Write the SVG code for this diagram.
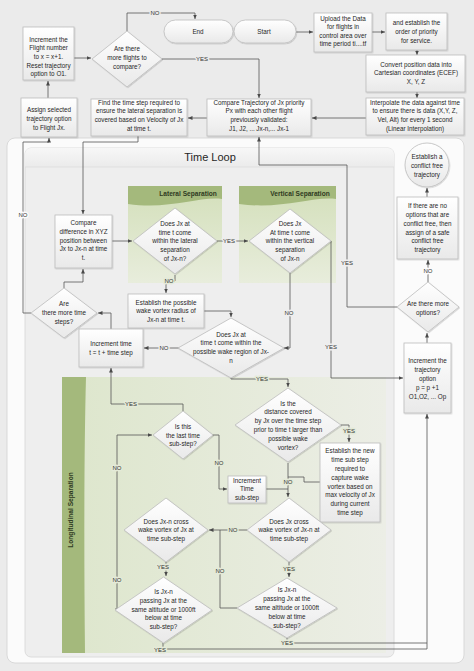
<svg xmlns="http://www.w3.org/2000/svg" width="474" height="671" viewBox="0 0 474 671">
<defs>
<linearGradient id="gNode" x1="0" y1="0" x2="0" y2="1"><stop offset="0" stop-color="#ffffff"/><stop offset="1" stop-color="#e9e9e9"/></linearGradient>
<linearGradient id="gGreen" x1="0" y1="0" x2="0" y2="1"><stop offset="0" stop-color="#d3dfba"/><stop offset="1" stop-color="#e8eddc"/></linearGradient>
<linearGradient id="gLong" x1="0" y1="0" x2="1" y2="0"><stop offset="0" stop-color="#dde6cc"/><stop offset="1" stop-color="#eceee6"/></linearGradient>
<linearGradient id="gTitle" x1="0" y1="0" x2="0" y2="1"><stop offset="0" stop-color="#f7f7f7"/><stop offset="1" stop-color="#ebebeb"/></linearGradient>
<marker id="ah" viewBox="0 0 8 8" refX="8" refY="4" markerWidth="4.5" markerHeight="4.5" orient="auto" markerUnits="userSpaceOnUse"><path d="M0,0.5 L8,4 L0,7.5 z" fill="#4a4a4a"/></marker>
<filter id="sh" x="-10%" y="-10%" width="130%" height="130%"><feDropShadow dx="0.7" dy="0.8" stdDeviation="0.7" flood-color="#000" flood-opacity="0.18"/></filter>
</defs>
<style>
.n{fill:url(#gNode);stroke:#bcbcbc;stroke-width:0.8;filter:url(#sh)}
.t{font-family:"Liberation Sans",Arial,sans-serif;font-size:6.3px;fill:#262626;text-anchor:middle}
.h{font-family:"Liberation Sans",Arial,sans-serif;font-size:6.6px;font-weight:bold;fill:#2f3a22;text-anchor:middle}
.c{fill:none;stroke:#555;stroke-width:0.8}
.a{marker-end:url(#ah)}
.l{font-family:"Liberation Sans",Arial,sans-serif;font-size:6px;fill:#333;text-anchor:middle;paint-order:stroke;stroke-width:3px;stroke-linejoin:round}
.lb{stroke:#ebebeb}.lg{stroke:#eeeeee}.lw{stroke:#fbfbfb}.lgr{stroke:#e4ead8}
</style>
<rect x="0" y="0" width="474" height="671" fill="#ebebeb"/>
<rect x="7" y="138" width="457" height="525" rx="8" fill="#fbfbfb" stroke="#d2d2d2" stroke-width="0.8"/>
<rect x="25" y="148" width="369" height="509" rx="6" fill="#eeeeee" stroke="#d6d6d6" stroke-width="0.8"/>
<path d="M31,148 H388 A6,6 0 0 1 394,154 V167 H25 V154 A6,6 0 0 1 31,148 Z" fill="url(#gTitle)"/>
<line x1="25" y1="167" x2="394" y2="167" stroke="#dcdcdc" stroke-width="0.8"/>
<text x="210" y="161" font-family="'Liberation Sans',Arial,sans-serif" font-size="11" fill="#262626" text-anchor="middle">Time Loop</text>
<g id="lateral-panel">
<rect x="128" y="186" width="94" height="97" fill="url(#gGreen)"/>
<path d="M128,186 H222 V199 C200,196 170,210 128,204 Z" fill="#a4b97c"/>
<text class="h" x="188" y="195.5">Lateral Separation</text>
</g>
<g id="vertical-panel">
<rect x="239" y="186" width="97" height="97" fill="url(#gGreen)"/>
<path d="M239,186 H336 V199 C313,196 282,210 239,204 Z" fill="#a4b97c"/>
<text class="h" x="300" y="195.5">Vertical Separation</text>
</g>
<g id="longitudinal-panel">
<rect x="62" y="377" width="324" height="276" fill="url(#gLong)"/>
<path d="M62,377 H86 C84,450 84,560 85,653 H62 Z" fill="#a4b97c"/>
<text class="h" transform="translate(73,510) rotate(-90)">Longitudinal Separation</text>
</g>
<g id="connectors">
<path class="c a" d="M296,32 H313"/>
<path class="c a" d="M372,32 H385"/>
<path class="c a" d="M417,50 V55"/>
<path class="c a" d="M417,92 V98"/>
<path class="c a" d="M366,118 H312"/>
<path class="c a" d="M207,118 H188"/>
<path class="c a" d="M138,136 V142 H83 V214"/>
<path class="c a" d="M112,241 H132"/>
<path class="c a" d="M217,241 H248"/>
<path class="c a" d="M175,275 V281 H166 V293"/>
<path class="c a" d="M204,311 H231 V317"/>
<path class="c a" d="M180,348 H144"/>
<path class="c a" d="M111,329 V313 H98"/>
<path class="c a" d="M64,288 V282 H83 V269"/>
<path class="c a" d="M31,313 H23 V142 H49 V138"/>
<path class="c a" d="M48,98 V81"/>
<path class="c a" d="M74,58 H91"/>
<path class="c a" d="M127,31 V13 H195 V19"/>
<path class="c a" d="M162,59 H259 V98"/>
<path class="c a" d="M290,273 V348 H284"/>
<path class="c a" d="M331,241 V378 H403"/>
<path class="c a" d="M397,307 H347 V165 H259 V137"/>
<path class="c a" d="M428,282 V260"/>
<path class="c a" d="M427,197 V188"/>
<path class="c a" d="M427,343 V333"/>
<path class="c" d="M287,638 V643 H427"/>
<path class="c a" d="M163,643 V649 H427 V414"/>
<path class="c a" d="M231,378 V379 H288 V387"/>
<path class="c a" d="M341,425 H349 V442"/>
<path class="c a" d="M288,463 V497"/>
<path class="c" d="M320,482 H304 V477 H288"/>
<path class="c" d="M266,489 H288"/>
<path class="c a" d="M183,411 V404 H111 V368"/>
<path class="c a" d="M212,435 H219 V489 H227"/>
<path class="c a" d="M247,530 H209"/>
<path class="c" d="M237,608 H220 V530"/>
<path class="c a" d="M289,562 V577"/>
<path class="c a" d="M166,562 V576"/>
<path class="c a" d="M115,609 H117 V435 H152"/>
<text class="l lb" x="155" y="15">NO</text>
<text class="l lb" x="202" y="61">YES</text>
<text class="l lw" x="23" y="217">NO</text>
<text class="l lg" x="229" y="243">YES</text>
<text class="l lgr" x="169" y="283">NO</text>
<text class="l lg" x="164" y="350">NO</text>
<text class="l lg" x="289" y="315">NO</text>
<text class="l lg" x="331" y="349">YES</text>
<text class="l lg" x="347" y="265">YES</text>
<text class="l lw" x="428" y="273">NO</text>
<text class="l lgr" x="262" y="381">YES</text>
<text class="l lgr" x="349" y="433">YES</text>
<text class="l lgr" x="288" y="484">NO</text>
<text class="l lgr" x="131" y="406">YES</text>
<text class="l lgr" x="219" y="465">NO</text>
<text class="l lgr" x="233" y="532">NO</text>
<text class="l lgr" x="220" y="573">NO</text>
<text class="l lgr" x="289" y="571">YES</text>
<text class="l lgr" x="163" y="569">YES</text>
<text class="l lgr" x="117" y="470">NO</text>
<text class="l lgr" x="117" y="582">NO</text>
<text class="l lgr" x="287" y="645">YES</text>
<text class="l lgr" x="160" y="652">YES</text>
</g>
<g id="end"><rect class="n" x="164" y="20" width="69" height="23" rx="11.5"/><text class="t" x="198" y="34.3">End</text></g>
<g id="start"><rect class="n" x="234" y="20" width="62" height="23" rx="11.5"/><text class="t" x="264" y="34.3">Start</text></g>
<g id="upload"><rect class="n" x="314" y="13" width="58" height="39"/><text class="t"><tspan x="343" y="20.8">Upload the Data</tspan><tspan x="343" y="29.3">for flights in</tspan><tspan x="343" y="37.8">control area over</tspan><tspan x="343" y="46.3">time period ti....tf</tspan></text></g>
<g id="priority"><rect class="n" x="386" y="13" width="61" height="37"/><text class="t"><tspan x="416.5" y="25.3">and establish the</tspan><tspan x="416.5" y="33.9">order of priority</tspan><tspan x="416.5" y="42.5">for service.</tspan></text></g>
<g id="convert"><rect class="n" x="366" y="55" width="99" height="37"/><text class="t"><tspan x="416" y="66.8">Convert position data into</tspan><tspan x="416" y="75.4">Cartesian coordinates (ECEF)</tspan><tspan x="416" y="84">X, Y, Z</tspan></text></g>
<g id="interpolate"><rect class="n" x="366" y="98" width="98" height="37"/><text class="t"><tspan x="415" y="104.8">Interpolate the data against time</tspan><tspan x="415" y="113.3">to ensure there is data (X,Y, Z,</tspan><tspan x="415" y="121.9">Vel, Alt) for every 1 second</tspan><tspan x="415" y="130.5">(Linear Interpolation)</tspan></text></g>
<g id="compare-traj"><rect class="n" x="207" y="99" width="104" height="37"/><text class="t"><tspan x="259" y="104.8">Compare Trajectory of  Jx priority</tspan><tspan x="259" y="113.3">Px with each other flight</tspan><tspan x="259" y="121.9">previously validated:</tspan><tspan x="259" y="130.5">J1, J2, ... Jx-n,... Jx-1</tspan></text></g>
<g id="find-step"><rect class="n" x="91" y="99" width="96" height="37"/><text class="t"><tspan x="139" y="104.8">Find the time step required to</tspan><tspan x="139" y="113.3">ensure the lateral separation is</tspan><tspan x="139" y="121.9">covered based on Velocity of Jx</tspan><tspan x="139" y="130.5">at time t.</tspan></text></g>
<g id="assign"><rect class="n" x="21" y="98" width="56" height="39"/><text class="t"><tspan x="49" y="112.3">Assign selected</tspan><tspan x="49" y="120.9">trajectory option</tspan><tspan x="49" y="129.5">to Flight Jx.</tspan></text></g>
<g id="inc-flight"><rect class="n" x="23" y="27" width="51" height="53"/><text class="t"><tspan x="48.5" y="41.8">Increment the</tspan><tspan x="48.5" y="50.4">Flight number</tspan><tspan x="48.5" y="59">to x = x+1.</tspan><tspan x="48.5" y="67.6">Reset trajectory</tspan><tspan x="48.5" y="76.2">option to O1.</tspan></text></g>
<g id="more-flights"><polygon class="n" points="127,31 162,59 127,87 92,59"/><text class="t"><tspan x="127" y="51.3">Are there</tspan><tspan x="127" y="60.1">more flights to</tspan><tspan x="127" y="68.9">compare?</tspan></text></g>
<g id="compare-diff"><rect class="n" x="55" y="215" width="57" height="53"/><text class="t"><tspan x="83.5" y="225.3">Compare</tspan><tspan x="83.5" y="234">difference in XYZ</tspan><tspan x="83.5" y="242.6">position between</tspan><tspan x="83.5" y="251.2">Jx to Jx-n at time</tspan><tspan x="83.5" y="259.8">t.</tspan></text></g>
<g id="lateral-check"><polygon class="n" points="175,208 217,241 175,274 133,241"/><text class="t"><tspan x="175" y="225.8">Does Jx at</tspan><tspan x="175" y="234.6">time t  come</tspan><tspan x="175" y="243.3">within the lateral</tspan><tspan x="175" y="252.1">separation</tspan><tspan x="175" y="260.8">of Jx-n?</tspan></text></g>
<g id="vertical-check"><polygon class="n" points="290,209 331,241 290,273 249,241"/><text class="t"><tspan x="290" y="225.8">Does Jx</tspan><tspan x="290" y="234.6">At time t come</tspan><tspan x="290" y="243.3">within the vertical</tspan><tspan x="290" y="252.1">separation</tspan><tspan x="290" y="260.8">of Jx-n</tspan></text></g>
<g id="wake-radius"><rect class="n" x="128" y="294" width="76" height="34"/><text class="t"><tspan x="166" y="304.6">Establish the possible</tspan><tspan x="166" y="313.3">wake vortex radius of</tspan><tspan x="166" y="322">Jx-n at time t.</tspan></text></g>
<g id="wake-check"><polygon class="n" points="231,318 284,348 231,378 178,348"/><text class="t"><tspan x="231" y="336.6">Does Jx at</tspan><tspan x="231" y="345.3">time t  come within the</tspan><tspan x="231" y="354">possible wake region of Jx-</tspan><tspan x="231" y="362.6">n</tspan></text></g>
<g id="inc-time"><rect class="n" x="79" y="329" width="64" height="38"/><text class="t"><tspan x="111" y="346.3">Increment time</tspan><tspan x="111" y="355">t = t + time step</tspan></text></g>
<g id="more-steps"><polygon class="n" points="64,288 97,313 64,338 31,313"/><text class="t"><tspan x="64" y="306.3">Are</tspan><tspan x="64" y="315">there more time</tspan><tspan x="64" y="324">steps?</tspan></text></g>
<g id="conflict-free"><circle class="n" cx="427" cy="165" r="22"/><text class="t"><tspan x="427" y="159.3">Establish a</tspan><tspan x="427" y="167.9">conflict free</tspan><tspan x="427" y="176.5">trajectory</tspan></text></g>
<g id="no-options"><rect class="n" x="397" y="197" width="61" height="62"/><text class="t"><tspan x="427.5" y="208.3">If there are no</tspan><tspan x="427.5" y="217.1">options that are</tspan><tspan x="427.5" y="225.8">conflict free, then</tspan><tspan x="427.5" y="234.6">assign of a safe</tspan><tspan x="427.5" y="243.3">conflict free</tspan><tspan x="427.5" y="252.1">trajectory</tspan></text></g>
<g id="more-options"><polygon class="n" points="428,282 459,307 428,332 397,307"/><text class="t"><tspan x="428" y="305.6">Are there more</tspan><tspan x="428" y="314.9">options?</tspan></text></g>
<g id="inc-option"><rect class="n" x="404" y="343" width="47" height="70"/><text class="t"><tspan x="427.5" y="363.3">Increment the</tspan><tspan x="427.5" y="372.1">trajectory</tspan><tspan x="427.5" y="380.9">option</tspan><tspan x="427.5" y="389.7">p = p +1</tspan><tspan x="427.5" y="398.5">O1,O2, ... Op</tspan></text></g>
<g id="distance-check"><polygon class="n" points="288,388 341,425 288,462 235,425"/><text class="t"><tspan x="288" y="405.6">Is the</tspan><tspan x="288" y="414.4">distance covered</tspan><tspan x="288" y="423.2">by Jx over the time step</tspan><tspan x="288" y="432">prior to time t larger than</tspan><tspan x="288" y="440.8">possible wake</tspan><tspan x="288" y="449.6">vortex?</tspan></text></g>
<g id="new-substep"><rect class="n" x="320" y="443" width="60" height="79"/><text class="t"><tspan x="350" y="453.3">Establish the new</tspan><tspan x="350" y="462.1">time sub step</tspan><tspan x="350" y="470.9">required to</tspan><tspan x="350" y="479.7">capture wake</tspan><tspan x="350" y="488.5">vortex based on</tspan><tspan x="350" y="497.3">max velocity of Jx</tspan><tspan x="350" y="506.1">during current</tspan><tspan x="350" y="514.9">time step</tspan></text></g>
<g id="last-substep"><polygon class="n" points="183,411 213,435 183,459 153,435"/><text class="t"><tspan x="183" y="429">Is this</tspan><tspan x="183" y="437.6">the last time</tspan><tspan x="183" y="446.3">sub-step?</tspan></text></g>
<g id="inc-substep"><rect class="n" x="228" y="476" width="38" height="27"/><text class="t"><tspan x="247" y="482.8">Increment</tspan><tspan x="247" y="491.3">Time</tspan><tspan x="247" y="499.8">sub-step</tspan></text></g>
<g id="jxn-cross"><polygon class="n" points="166,498 208,530 166,562 124,530"/><text class="t"><tspan x="166" y="524">Does Jx-n cross</tspan><tspan x="166" y="532.3">wake vortex of Jx at</tspan><tspan x="166" y="541">time sub-step</tspan></text></g>
<g id="jx-cross"><polygon class="n" points="289,498 331,530 289,562 247,530"/><text class="t"><tspan x="289" y="524">Does Jx cross</tspan><tspan x="289" y="532.3">wake vortex of Jx-n at</tspan><tspan x="289" y="541">time sub-step</tspan></text></g>
<g id="jxn-passing-left"><polygon class="n" points="163.5,577 212,610 163.5,643 115,610"/><text class="t"><tspan x="163.5" y="594">Is Jx-n</tspan><tspan x="163.5" y="602.8">passing Jx at the</tspan><tspan x="163.5" y="611.6">same altitude or 1000ft</tspan><tspan x="163.5" y="620.3">below at time</tspan><tspan x="163.5" y="629">sub-step?</tspan></text></g>
<g id="jxn-passing-right"><polygon class="n" points="287,578 337,608 287,638 237,608"/><text class="t"><tspan x="287" y="592.3">Is Jx-n</tspan><tspan x="287" y="601.1">passing Jx at the</tspan><tspan x="287" y="609.9">same altitude or 1000ft</tspan><tspan x="287" y="618.7">below at time</tspan><tspan x="287" y="627.5">sub-step?</tspan></text></g>
</svg>
